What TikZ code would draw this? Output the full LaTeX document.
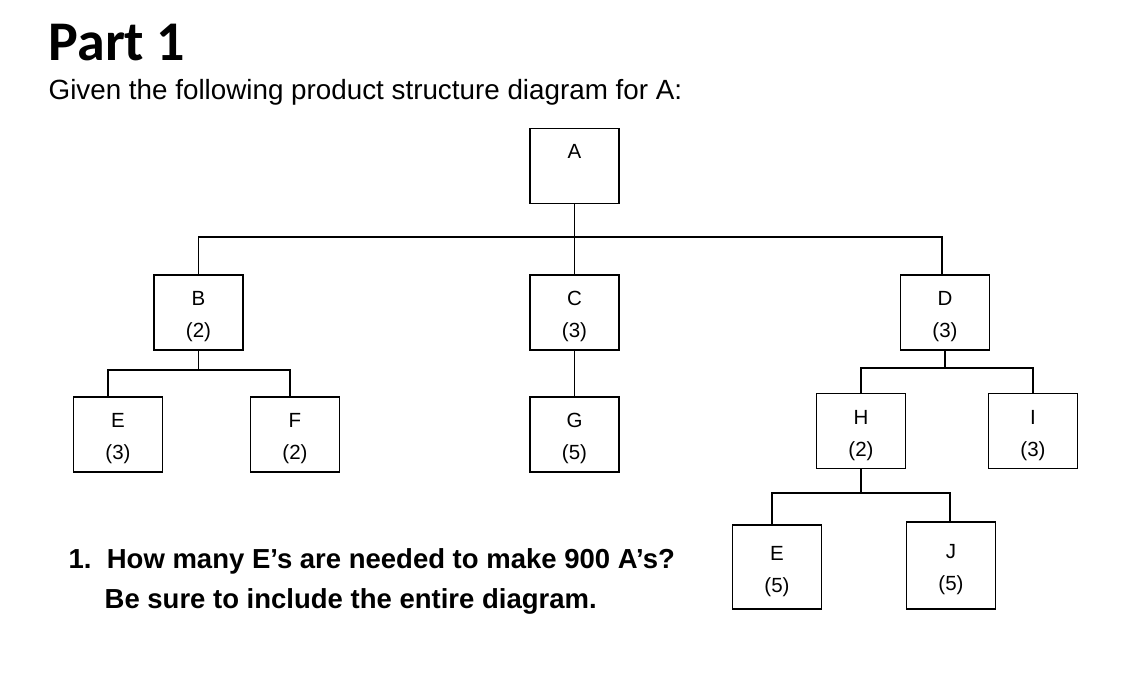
\documentclass[tikz,border=0pt]{standalone}
\usepackage{fontspec}
\setmainfont{Liberation Sans}
\newfontfamily\titlef{Carlito}
\begin{document}
\begin{tikzpicture}[x=1pt,y=-1pt,line width=1.3pt,
  box/.style={draw,minimum width=89pt,minimum height=75pt,inner sep=0pt},
  lab/.style={font=\fontsize{20.5}{24}\selectfont,anchor=base}]
\useasboundingbox[fill=white] (0,0) rectangle (1141,687);
\node[anchor=base west,font=\titlef\bfseries\fontsize{56}{60}\selectfont,inner sep=0] (t) at (48,61) {Part 1};
\node[anchor=base west,font=\fontsize{27.8}{32}\selectfont,inner sep=0] (g) at (48,100) {Given the following product structure diagram for A:};
\newcommand\bx[6][75]{\node[box,minimum height=#1pt] (#2) at (#3,#4) {};
  \node[lab] (#2l) at (#3,#4-7) {#5};
  \node[lab] (#2q) at (#3,#4+25) {#6};}
\bx{A}{574.5}{166}{A}{}
\bx{B}{198.5}{312.5}{B}{(2)}
\bx{C}{574.5}{312.5}{C}{(3)}
\bx{D}{945}{312.5}{D}{(3)}
\bx{E}{118}{434.5}{E}{(3)}
\bx{F}{295}{434.5}{F}{(2)}
\bx{G}{574.5}{434.5}{G}{(5)}
\bx{H}{861}{431}{H}{(2)}
\bx{I}{1033}{431}{I}{(3)}
\bx[84]{E2}{777}{567}{E}{(5)}
\bx[87]{J}{951}{565.5}{J}{(5)}
\draw (A.south) -- (C.north);
\draw (B.north) -- (198.5,237) -- (942,237) -- (942,275);
\draw (B.south) -- (198.5,370);
\draw (108,397) -- (108,370) -- (290,370) -- (290,397);
\draw (C.south) -- (G.north);
\draw (D.south) -- (945,368);
\draw (861,394) -- (861,368) -- (1033,368) -- (1033,394);
\draw (H.south) -- (861,493);
\draw (772,525) -- (772,493) -- (950,493) -- (950,522);
\node[anchor=base west,font=\bfseries\fontsize{27.5}{32}\selectfont,inner sep=0] (q1) at (68,568) {1.\ \ How many E’s are needed to make 900 A’s?};
\node[anchor=base west,font=\bfseries\fontsize{27.5}{32}\selectfont,inner sep=0] (q2) at (104,608) {Be sure to include the entire diagram.};
\end{tikzpicture}
\end{document}
